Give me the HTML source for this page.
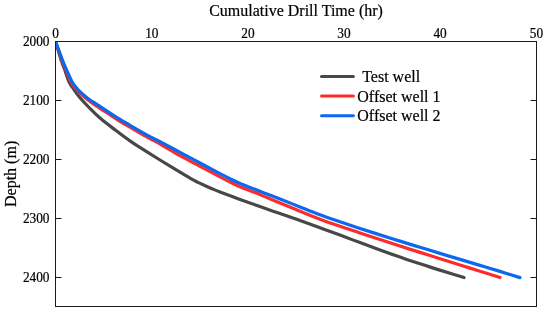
<!DOCTYPE html>
<html><head><meta charset="utf-8"><title>Cumulative Drill Time</title>
<style>
html,body{margin:0;padding:0;background:#fff;}
svg{display:block;}
text{font-family:"Liberation Serif",serif;fill:#000;stroke:#000;stroke-width:0.2px;}
.t{font-size:13.3px;}
.l{font-size:16px;}
</style></head><body>
<svg width="550" height="318" viewBox="0 0 550 318">
<rect x="0" y="0" width="550" height="318" fill="#ffffff"/>
<text class="l" transform="translate(296.00,16.40) scale(1,1.045)" text-anchor="middle">Cumulative Drill Time (hr)</text>
<text class="l" transform="translate(15.70,173.90) rotate(-90)" text-anchor="middle">Depth (m)</text>
<text class="t" transform="translate(55.60,38.30) scale(1,1.045)" text-anchor="middle">0</text>
<text class="t" transform="translate(151.80,38.30) scale(1,1.045)" text-anchor="middle">10</text>
<text class="t" transform="translate(247.90,38.30) scale(1,1.045)" text-anchor="middle">20</text>
<text class="t" transform="translate(344.00,38.30) scale(1,1.045)" text-anchor="middle">30</text>
<text class="t" transform="translate(440.10,38.30) scale(1,1.045)" text-anchor="middle">40</text>
<text class="t" transform="translate(536.40,38.30) scale(1,1.045)" text-anchor="middle">50</text>
<text class="t" transform="translate(49.50,45.70) scale(1,1.045)" text-anchor="end">2000</text>
<text class="t" transform="translate(49.50,104.80) scale(1,1.045)" text-anchor="end">2100</text>
<text class="t" transform="translate(49.50,163.80) scale(1,1.045)" text-anchor="end">2200</text>
<text class="t" transform="translate(49.50,222.90) scale(1,1.045)" text-anchor="end">2300</text>
<text class="t" transform="translate(49.50,281.90) scale(1,1.045)" text-anchor="end">2400</text>
<clipPath id="pa"><rect x="55.5" y="41.5" width="481" height="265"/></clipPath>
<g clip-path="url(#pa)" fill="none" stroke-linecap="round" stroke-linejoin="round" stroke-width="3.2">
<path stroke="#484848" d="M55.50 41.50 C55.93 42.92 57.05 46.58 58.10 50.00 C59.15 53.42 60.68 58.67 61.80 62.00 C62.92 65.33 63.58 66.67 64.80 70.00 C66.02 73.33 67.58 78.75 69.10 82.00 C70.62 85.25 72.08 86.87 73.90 89.50 C75.72 92.13 77.32 94.63 80.00 97.80 C82.68 100.97 86.67 105.13 90.00 108.50 C93.33 111.87 95.83 114.45 100.00 118.00 C104.17 121.55 110.00 125.98 115.00 129.80 C120.00 133.62 125.00 137.43 130.00 140.90 C135.00 144.37 140.00 147.42 145.00 150.60 C150.00 153.78 155.00 156.90 160.00 160.00 C165.00 163.10 170.00 166.17 175.00 169.20 C180.00 172.22 186.17 175.95 190.00 178.15 C193.83 180.35 195.50 181.16 198.00 182.40 C200.50 183.64 202.67 184.55 205.00 185.60 C207.33 186.65 209.50 187.63 212.00 188.70 C214.50 189.77 215.33 190.22 220.00 192.00 C224.67 193.78 233.33 196.97 240.00 199.40 C246.67 201.83 253.33 204.25 260.00 206.60 C266.67 208.95 273.33 211.20 280.00 213.50 C286.67 215.80 293.33 218.03 300.00 220.40 C306.67 222.77 313.33 225.25 320.00 227.70 C326.67 230.15 333.33 232.62 340.00 235.10 C346.67 237.58 353.33 240.11 360.00 242.60 C366.67 245.09 373.33 247.63 380.00 250.05 C386.67 252.47 393.33 254.80 400.00 257.10 C406.67 259.40 414.17 261.93 420.00 263.85 C425.83 265.77 430.00 267.03 435.00 268.60 C440.00 270.17 445.17 271.77 450.00 273.25 C454.83 274.73 461.67 276.79 464.00 277.50"/>
<path stroke="#ff2b2b" d="M55.50 41.50 C55.98 42.92 57.20 46.58 58.40 50.00 C59.60 53.42 61.45 58.67 62.70 62.00 C63.95 65.33 64.52 66.67 65.90 70.00 C67.28 73.33 69.57 79.17 71.00 82.00 C72.43 84.83 73.00 85.15 74.50 87.00 C76.00 88.85 77.75 90.93 80.00 93.10 C82.25 95.27 85.33 97.90 88.00 100.00 C90.67 102.10 93.33 103.88 96.00 105.70 C98.67 107.52 101.33 109.17 104.00 110.90 C106.67 112.63 109.33 114.37 112.00 116.10 C114.67 117.83 117.00 119.45 120.00 121.30 C123.00 123.15 126.67 125.25 130.00 127.20 C133.33 129.15 136.67 131.10 140.00 133.00 C143.33 134.90 146.50 136.68 150.00 138.60 C153.50 140.52 156.00 141.67 161.00 144.50 C166.00 147.33 173.50 151.97 180.00 155.60 C186.50 159.23 193.33 162.76 200.00 166.30 C206.67 169.84 214.67 174.07 220.00 176.85 C225.33 179.63 228.67 181.34 232.00 183.00 C235.33 184.66 237.50 185.70 240.00 186.80 C242.50 187.90 244.50 188.63 247.00 189.60 C249.50 190.57 251.67 191.27 255.00 192.60 C258.33 193.93 262.83 195.88 267.00 197.60 C271.17 199.32 274.50 200.63 280.00 202.90 C285.50 205.17 293.33 208.48 300.00 211.20 C306.67 213.92 313.33 216.68 320.00 219.20 C326.67 221.72 333.33 224.02 340.00 226.30 C346.67 228.58 353.33 230.68 360.00 232.90 C366.67 235.12 373.33 237.40 380.00 239.60 C386.67 241.80 393.33 243.97 400.00 246.10 C406.67 248.23 413.33 250.30 420.00 252.40 C426.67 254.50 433.33 256.60 440.00 258.70 C446.67 260.80 453.33 262.91 460.00 265.00 C466.67 267.09 473.33 269.15 480.00 271.25 C486.67 273.35 496.67 276.54 500.00 277.60"/>
<path stroke="#0a69ee" d="M55.50 41.50 C56.03 42.92 57.42 46.58 58.70 50.00 C59.98 53.42 61.88 58.67 63.20 62.00 C64.52 65.33 65.10 66.67 66.60 70.00 C68.10 73.33 70.67 79.17 72.20 82.00 C73.73 84.83 74.50 85.38 75.80 87.00 C77.10 88.62 77.97 89.78 80.00 91.70 C82.03 93.62 85.33 96.47 88.00 98.50 C90.67 100.53 93.33 102.13 96.00 103.90 C98.67 105.67 101.33 107.37 104.00 109.10 C106.67 110.83 109.33 112.58 112.00 114.30 C114.67 116.02 117.00 117.57 120.00 119.40 C123.00 121.23 126.67 123.34 130.00 125.30 C133.33 127.26 136.67 129.25 140.00 131.15 C143.33 133.05 146.50 134.86 150.00 136.70 C153.50 138.54 156.00 139.58 161.00 142.20 C166.00 144.82 173.50 148.93 180.00 152.40 C186.50 155.87 193.33 159.45 200.00 163.00 C206.67 166.55 214.67 170.92 220.00 173.70 C225.33 176.48 228.67 178.08 232.00 179.70 C235.33 181.32 237.50 182.30 240.00 183.40 C242.50 184.50 244.50 185.31 247.00 186.30 C249.50 187.29 251.67 188.07 255.00 189.35 C258.33 190.63 262.83 192.41 267.00 194.00 C271.17 195.59 274.50 196.75 280.00 198.90 C285.50 201.05 293.33 204.27 300.00 206.90 C306.67 209.53 313.33 212.22 320.00 214.70 C326.67 217.18 333.33 219.50 340.00 221.80 C346.67 224.10 353.33 226.32 360.00 228.50 C366.67 230.68 373.33 232.79 380.00 234.90 C386.67 237.01 393.33 239.08 400.00 241.15 C406.67 243.22 413.33 245.27 420.00 247.30 C426.67 249.33 433.33 251.33 440.00 253.35 C446.67 255.37 453.33 257.40 460.00 259.40 C466.67 261.40 473.33 263.35 480.00 265.35 C486.67 267.35 493.33 269.36 500.00 271.40 C506.67 273.44 516.67 276.57 520.00 277.60"/>
</g>
<g stroke="#1a1a1a" stroke-width="1" fill="none">
<rect x="55.5" y="41.5" width="481" height="265"/>
<path d="M55.5 100.5H61.5M530.5 100.5H536.5"/>
<path d="M55.5 159.5H61.5M530.5 159.5H536.5"/>
<path d="M55.5 218.5H61.5M530.5 218.5H536.5"/>
<path d="M55.5 277.5H61.5M530.5 277.5H536.5"/>
</g>
<g fill="none" stroke-linecap="round" stroke-width="3">
<path stroke="#484848" d="M321.5 76.4H353.4"/>
<path stroke="#ff2b2b" d="M321.5 96.0H353.4"/>
<path stroke="#0a69ee" d="M321.5 115.7H353.4"/>
</g>
<text class="l" transform="translate(362.20,82.20) scale(1,1.045)">Test well</text>
<text class="l" transform="translate(357.30,101.50) scale(1,1.045)">Offset well 1</text>
<text class="l" transform="translate(357.30,121.20) scale(1,1.045)">Offset well 2</text>
</svg>
</body></html>
